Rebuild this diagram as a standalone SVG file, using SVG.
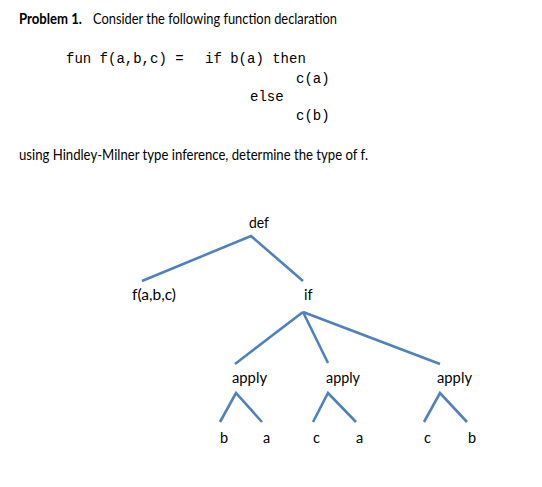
<svg xmlns="http://www.w3.org/2000/svg" width="542" height="487" viewBox="0 0 542 487">
<style>
.t{font-family:Lato,"Liberation Sans",sans-serif;font-size:14.5px;fill:#000}
.b{font-weight:bold}
.m{font-family:"Liberation Mono","Courier New",monospace;font-size:14px;fill:#000}
.e{stroke:#4F81BD;stroke-width:2.6;fill:none;stroke-linejoin:miter;stroke-linecap:butt}
</style>
<rect width="542" height="487" fill="#fff"/>
<g id="header">
<text class="t b" x="19" y="24" textLength="63" lengthAdjust="spacingAndGlyphs">Problem 1.</text>
<text class="t" x="93" y="24" textLength="244" lengthAdjust="spacingAndGlyphs">Consider the following function declaration</text>
<text class="m" x="66" y="63">fun f(a,b,c) =</text>
<text class="m" x="205" y="63">if b(a) then</text>
<text class="m" x="296" y="83">c(a)</text>
<text class="m" x="250" y="101">else</text>
<text class="m" x="296" y="120">c(b)</text>
<text class="t" x="19" y="160" textLength="349" lengthAdjust="spacingAndGlyphs">using Hindley-Milner type inference, determine the type of f.</text>
</g>
<g id="connectors">
<polyline class="e" points="142,281 251,236 303,281"/>
<line class="e" x1="303" y1="312" x2="235" y2="364"/>
<line class="e" x1="303" y1="312" x2="328" y2="363"/>
<line class="e" x1="303" y1="312" x2="440" y2="364"/>
<polyline class="e" points="220,422 236,393 262,422"/>
<polyline class="e" points="313,422 328,393 356,422"/>
<polyline class="e" points="424,422 440,393 467,422"/>
</g>
<g id="node-def"><text class="t" x="249" y="228" textLength="20" lengthAdjust="spacingAndGlyphs">def</text></g>
<g id="node-fabc"><text class="t" x="132" y="300" textLength="44" lengthAdjust="spacingAndGlyphs">f(a,b,c)</text></g>
<g id="node-if"><text class="t" x="304" y="300">if</text></g>
<g id="node-apply1"><text class="t" x="232" y="383" textLength="35" lengthAdjust="spacingAndGlyphs">apply</text></g>
<g id="node-apply2"><text class="t" x="326" y="383" textLength="34" lengthAdjust="spacingAndGlyphs">apply</text></g>
<g id="node-apply3"><text class="t" x="437" y="383" textLength="35" lengthAdjust="spacingAndGlyphs">apply</text></g>
<g id="leaf-b1"><text class="t" x="220" y="443">b</text></g>
<g id="leaf-a1"><text class="t" x="263" y="443">a</text></g>
<g id="leaf-c2"><text class="t" x="313" y="443">c</text></g>
<g id="leaf-a2"><text class="t" x="356" y="443">a</text></g>
<g id="leaf-c3"><text class="t" x="424" y="443">c</text></g>
<g id="leaf-b3"><text class="t" x="468" y="443">b</text></g>
</svg>
